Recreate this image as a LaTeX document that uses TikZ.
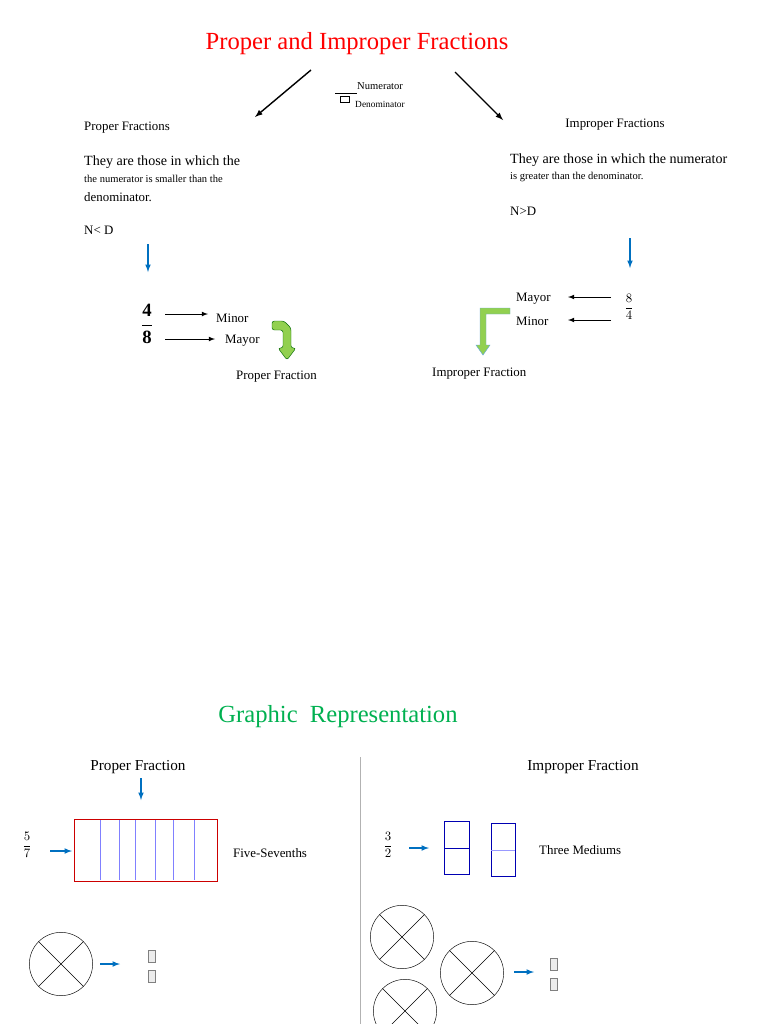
\documentclass[tikz,border=0pt]{standalone}
\usepackage{fontspec}
\setmainfont{Liberation Serif}
\usepackage{amsmath}
\usepackage{tikz}
\definecolor{arrowblue}{RGB}{0,112,192}
\definecolor{leafgreen}{RGB}{146,208,80}
\definecolor{titlegreen}{RGB}{0,176,80}
\tikzset{
  txt/.style={inner sep=0pt,anchor=west,font=\fontsize{11}{13}\selectfont},
  small/.style={inner sep=0pt,anchor=west,font=\fontsize{9}{11}\selectfont},
  blk/.style={-latex,thick},
  blu/.style={-latex,very thick,draw=arrowblue},
  pie/.style={circle,draw,minimum size=54pt,inner sep=0pt,path picture={
    \draw (path picture bounding box.north west)--(path picture bounding box.south east)
          (path picture bounding box.north east)--(path picture bounding box.south west);}},
  tiny/.style={draw=gray,fill=gray!15,minimum width=6pt,minimum height=10pt,inner sep=0pt},
  frc/.style={inner sep=0pt,font=\fontsize{11}{13}\selectfont}
}
\begin{document}
\begin{tikzpicture}[x=0.03cm,y=-0.03cm]
\useasboundingbox (0,0) rectangle (768,1024);

\node[red,font=\fontsize{21}{24}\selectfont] (title) at (357,44) {Proper and Improper Fractions};
\coordinate (tl) at (311,70); \coordinate (tr) at (455,72);
\coordinate (al) at (255,117); \coordinate (ar) at (503,120);
\draw[blk,very thick] (tl) -- (al);
\draw[blk,very thick] (tr) -- (ar);
\node[small] (num) at (357,86) {Numerator};
\node[small,font=\fontsize{8}{9}\selectfont] (den) at (355,104) {Denominator};
\coordinate (bar1) at (335,93); \coordinate (bar2) at (357,93);
\draw (bar1) -- (bar2);
\node[draw,minimum width=8pt,minimum height=5pt,inner sep=0pt] (box) at (345,99) {};

% left side
\node[txt] (pf) at (84,128) {Proper Fractions};
\node[txt,font=\fontsize{12}{14}\selectfont] (l1) at (84,162) {They are those in which the};
\node[small] (l2) at (84,179) {the numerator is smaller than the};
\node[txt] (l3) at (84,197) {denominator.};
\node[txt] (l4) at (84,230) {N< D};
\coordinate (lb1) at (148,244); \coordinate (lb2) at (148,272);
\draw[blu] (lb1) -- (lb2);
\node[frc,font=\fontsize{16}{19}\selectfont] (frac48) at (147,324) {$\displaystyle\mathbf{\frac{4}{8}}$};
\node[txt] (minorL) at (216,318) {Minor};
\node[txt] (mayorL) at (225,341) {Mayor};
\coordinate (a1) at (165,314); \coordinate (a1e) at (208,314);
\coordinate (a2) at (165,339); \coordinate (a2e) at (215,339);
\draw[blk] (a1) -- (a1e);
\draw[blk] (a2) -- (a2e);
\draw[fill=leafgreen,draw=green!40!black,rounded corners=2pt]
  (272,321) -- (284,321) -- (291,328) -- (291,348) -- (296,348) -- (287,360)
  -- (278,348) -- (283,348) -- (283,330) -- (272,330) -- cycle;
\node[txt] (propf) at (236,377) {Proper Fraction};

% right side
\node[txt,anchor=center] (ipf) at (615,125) {Improper Fractions};
\node[txt,font=\fontsize{12}{14}\selectfont] (r1) at (510,160) {They are those in which the numerator};
\node[small] (r2) at (510,177) {is greater than the denominator.};
\node[txt] (r3) at (510,211) {N>D};
\coordinate (rb1) at (630,238); \coordinate (rb2) at (630,268);
\draw[blu] (rb1) -- (rb2);
\node[frc] (frac84) at (629,307) {$\displaystyle\frac{8}{4}$};
\node[txt] (mayorR) at (516,299) {Mayor};
\node[txt] (minorR) at (516,321) {Minor};
\coordinate (b1) at (611,297); \coordinate (b1e) at (568,297);
\coordinate (b2) at (611,320); \coordinate (b2e) at (568,320);
\draw[blk] (b1) -- (b1e);
\draw[blk] (b2) -- (b2e);
\draw[fill=leafgreen,draw=arrowblue!60]
  (510,308) -- (480,308) -- (480,345) -- (476,345) -- (483,355) -- (490,345)
  -- (486,345) -- (486,314) -- (510,314) -- cycle;
\node[txt] (impf) at (432,374) {Improper Fraction};

% graphic representation
\node[titlegreen,font=\fontsize{21}{24}\selectfont] (gr) at (338,717) {Graphic\ \ Representation};
\draw[gray!60] (360,757) -- (360,1024);
\node[font=\fontsize{13}{15}\selectfont] (gp) at (138,767) {Proper Fraction};
\node[font=\fontsize{13}{15}\selectfont] (gi) at (583,767) {Improper Fraction};
\coordinate (gb1) at (141,778); \coordinate (gb2) at (141,800);
\draw[blu] (gb1) -- (gb2);

\node[frc] (frac57) at (27,845) {$\displaystyle\frac{5}{7}$};
\draw[draw=red!80!black] (74,819) rectangle (217,881);
\foreach \x in {100,119,135,155,173,194}
  \draw[blue!50] (\x,820) -- (\x,880);
\coordinate (s1) at (50,851); \coordinate (s2) at (72,851);
\draw[blu] (s1) -- (s2);
\node[txt] (fives) at (233,853) {Five-Sevenths};

\node[pie] (c1) at (61,964) {};
\coordinate (c1a) at (100,964); \coordinate (c1b) at (120,964);
\draw[blu] (c1a) -- (c1b);
\node[tiny] (n1) at (152,956) {};
\node[tiny] (d1) at (152,976) {};
\draw[gray,thick] (n1.south west) -- (n1.south east);

\node[frc] (frac32) at (388,845) {$\displaystyle\frac{3}{2}$};
\coordinate (t1) at (409,848); \coordinate (t2) at (429,848);
\draw[blu] (t1) -- (t2);
\draw[blue!70!black] (444,821) rectangle (469,874) (444,848) -- (469,848);
\draw[blue!70!black] (491,823) rectangle (515,876);
\draw[blue!40] (491,850) -- (515,850);
\node[txt] (three) at (539,850) {Three Mediums};

\node[pie] (c2) at (402,937) {};
\node[pie] (c3) at (472,973) {};
\node[pie] (c4) at (405,1011) {};
\coordinate (u1) at (514,972); \coordinate (u2) at (534,972);
\draw[blu] (u1) -- (u2);
\node[tiny] (n2) at (554,964) {};
\node[tiny] (d2) at (554,984) {};
\draw[gray,thick] (n2.south west) -- (n2.south east);
\end{tikzpicture}
\end{document}
